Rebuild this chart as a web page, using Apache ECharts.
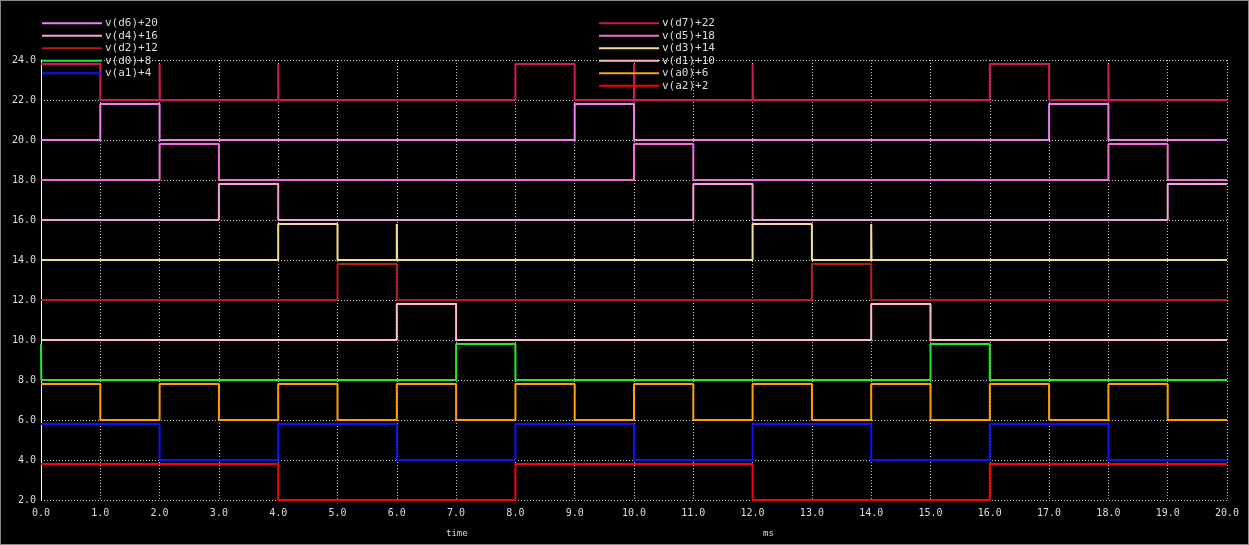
<!DOCTYPE html>
<html><head><meta charset="utf-8">
<script src="https://cdn.jsdelivr.net/npm/echarts@6/dist/echarts.min.js"></script>
<style>html,body{margin:0;background:#000}#c{width:1249px;height:545px;box-sizing:border-box;border:1px solid #888}</style>
</head><body><div id="c"></div>
<script>
// high intervals [start,end] in ms for each digital signal, high level 1.8 V
var hiA2 = [[0,4],[8,12],[16,20]]
var hiA1 = [[0,2],[4,6],[8,10],[12,14],[16,18]]
var hiA0 = [[0,1],[2,3],[4,5],[6,7],[8,9],[10,11],[12,13],[14,15],[16,17],[18,19]]
var hiD0 = [[0,0.005],[7,8],[15,16]]
var hiD1 = [[6,7],[14,15]]
var hiD2 = [[5,6],[13,14]]
var hiD3 = [[4,5],[6,6.005],[12,13],[14,14.005]]
var hiD4 = [[3,4],[11,12],[19,20]]
var hiD5 = [[2,3],[10,11],[18,19]]
var hiD6 = [[1,2],[9,10],[17,18]]
var hiD7 = [[0,1],[2,2.005],[4,4.005],[8,9],[10,10.005],[12,12.005],[16,17],[18,18.005]]
var highLevel = 1.8
var signals = [
  {name:'v(d6)+20', off:20, hi:hiD6, color:'#f07ef0'},
  {name:'v(d4)+16', off:16, hi:hiD4, color:'#f5a0dc'},
  {name:'v(d2)+12', off:12, hi:hiD2, color:'#b81c1c'},
  {name:'v(d0)+8',  off:8,  hi:hiD0, color:'#22ee22'},
  {name:'v(a1)+4',  off:4,  hi:hiA1, color:'#1010ff'},
  {name:'v(d7)+22', off:22, hi:hiD7, color:'#d0185a'},
  {name:'v(d5)+18', off:18, hi:hiD5, color:'#f070d0'},
  {name:'v(d3)+14', off:14, hi:hiD3, color:'#f2e08c'},
  {name:'v(d1)+10', off:10, hi:hiD1, color:'#ffbcc8'},
  {name:'v(a0)+6',  off:6,  hi:hiA0, color:'#ffa000'},
  {name:'v(a2)+2',  off:2,  hi:hiA2, color:'#ff0000'}
]
function wave(s){
  var pts=[], t=0
  s.hi.forEach(function(iv){
    if(iv[0]>t){pts.push([t,s.off]);pts.push([iv[0],s.off])}
    pts.push([iv[0],s.off+highLevel]);pts.push([iv[1],s.off+highLevel])
    if(iv[1]<20)pts.push([iv[1],s.off])
    t=iv[1]
  })
  if(t<20){pts.push([t,s.off]);pts.push([20,s.off])}
  return pts
}
var font='DejaVu Sans Mono'
var ch=echarts.init(document.getElementById('c'))
var legendStyle={orient:'vertical',itemWidth:60,itemHeight:2,itemGap:0,icon:'rect',
  textStyle:{color:'#ddd',fontFamily:font,fontSize:11,lineHeight:12.5,padding:[0,0,0,-2]},selectedMode:false}
ch.setOption({
  backgroundColor:'#000',animation:false,
  grid:{left:40,right:21,top:59,bottom:44},
  legend:[
    Object.assign({left:36,top:11,data:signals.slice(0,5).map(function(s){return s.name})},legendStyle),
    Object.assign({left:593,top:11,data:signals.slice(5).map(function(s){return s.name})},legendStyle)
  ],
  xAxis:{type:'value',min:0,max:20,interval:1,
    axisLine:{show:false},axisTick:{show:false},
    axisLabel:{color:'#ddd',fontFamily:font,fontSize:10,formatter:function(v){return v.toFixed(1)}},
    splitLine:{lineStyle:{color:'#ccc',type:[1,2],width:1}}},
  yAxis:{type:'value',min:2,max:24,interval:2,
    axisLine:{show:true,lineStyle:{color:'#fff'}},axisTick:{show:false},
    axisLabel:{color:'#ddd',fontFamily:font,fontSize:10,margin:5,formatter:function(v){return v.toFixed(1)}},
    splitLine:{lineStyle:{color:'#ccc',type:[1,2],width:1}}},
  graphic:[
    {type:'text',left:445,top:528,style:{text:'time',fill:'#ddd',font:'9px '+font}},
    {type:'text',left:762,top:528,style:{text:'ms',fill:'#ddd',font:'9px '+font}}
  ],
  series:signals.map(function(s){return {name:s.name,type:'line',data:wave(s),symbol:'none',
    lineStyle:{color:s.color,width:2},itemStyle:{color:s.color}}})
})
</script></body></html>
